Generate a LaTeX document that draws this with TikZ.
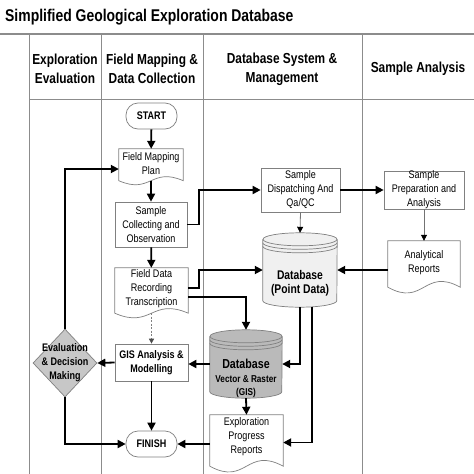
\documentclass[tikz,border=0pt]{standalone}
\usepackage{fontspec}
\setmainfont{Liberation Sans}[FakeStretch=0.82]
\usetikzlibrary{arrows.meta,calc,shapes.geometric}
\pgfdeclarelayer{bg}
\pgfsetlayers{bg,main}
\newcommand\normaltxt{\fontsize{11}{14}\selectfont}
\newcommand\boldtxt{\bfseries\fontsize{11}{14}\selectfont}
\newcommand\headtxt{\bfseries\fontsize{14.5}{19}\selectfont}
\newcommand\docshape[3]{%
  \coordinate (#1-b) at ($(#1.south)+(0,-#2)$);
  \draw[shapeline] (#1.north west) -- (#1.north east) -- (#1.south east |- #1-b)
    .. controls ($(#1-b)+(0,#3)$) and ($(#1-b)+(0,-#3)$) .. (#1.south west |- #1-b) -- cycle;}
\newcommand\cylshape[4]{%
  \fill[#2] ($(#1.north west)+(0,-#4)$) -- ($(#1.south west)+(0,#4)$)
    arc[start angle=180,end angle=360,x radius=#3,y radius=#4]
    -- ($(#1.north east)+(0,-#4)$)
    arc[start angle=0,end angle=180,x radius=#3,y radius=#4] -- cycle;
  \draw[shapeline] ($(#1.north west)+(0,-#4)$) -- ($(#1.south west)+(0,#4)$)
    arc[start angle=180,end angle=360,x radius=#3,y radius=#4]
    -- ($(#1.north east)+(0,-#4)$);
  \draw[shapeline] ($(#1.north)+(0,-#4)$) ellipse[x radius=#3,y radius=#4];
  \draw[shapeline] ($(#1.north west)+(0,-#4-3.5pt)$) arc[start angle=180,end angle=360,x radius=#3,y radius=#4];
  \draw[shapeline] ($(#1.north west)+(0,-#4-7pt)$) arc[start angle=180,end angle=360,x radius=#3,y radius=#4];}
\tikzset{
  lane/.style={draw=black!45, line width=0.8pt},
  shapeline/.style={draw=black!50, line width=0.7pt},
  box/.style={shapeline, rectangle, inner sep=0pt, align=center, font=\normaltxt},
  docnode/.style={rectangle, inner sep=0pt, align=center, font=\normaltxt},
  cylnode/.style={rectangle, inner sep=0pt},
  term/.style={shapeline, rectangle, rounded corners=12pt, minimum width=51pt, minimum height=26pt, inner sep=0pt, font=\boldtxt},
  dia/.style={shapeline, diamond, fill=black!22, minimum width=64pt, minimum height=68pt, inner sep=0pt},
  head/.style={align=center, font=\headtxt, inner sep=0pt},
  arr/.style={-{Triangle[length=8pt,width=8pt]}, line width=1.8pt, black},
  thinarr/.style={-{Triangle[length=6pt,width=6pt,color=black]}, line width=0.8pt, draw=black!55},
  dasharr/.style={-{Triangle[length=5pt,width=5pt,color=black!70]}, line width=0.7pt, draw=black!50, dash pattern=on 2pt off 1.5pt}
}
\begin{document}
\begin{tikzpicture}[x=1pt,y=-1pt]
\useasboundingbox (0,0) rectangle (474,474);
% title and lanes
\node[anchor=west, inner sep=0pt, font=\bfseries\fontsize{17}{20}\selectfont] (title) at (5,17) {Simplified Geological Exploration Database};
\begin{pgfonlayer}{bg}
\fill[white] (0,0) rectangle (474,474);
\draw[lane, line width=1.2pt] (0,34) -- (474,34);
\draw[lane] (29,99) -- (474,99);
\draw[lane] (29,34) -- (29,474);
\draw[lane] (101,34) -- (101,474);
\draw[lane] (203,34) -- (203,474);
\draw[lane] (362,34) -- (362,474);
\end{pgfonlayer}
\node[head] (h1) at (65,69) {Exploration\\Evaluation};
\node[head] (h2) at (152,69) {Field Mapping \&\\Data Collection};
\node[head] (h3) at (282,69) {Database System \&\\Management};
\node[head] (h4) at (418,69) {Sample Analysis};
% nodes
\node[term] (start) at (151.5,116) {START};
\node[docnode, minimum width=64pt, minimum height=29pt] (fmp) at (151,163.5) {Field Mapping\\Plan};
\docshape{fmp}{2.5pt}{14pt}
\node[box, minimum width=72pt, minimum height=45pt] (sco) at (151,224.5) {Sample\\Collecting and\\Observation};
\node[docnode, minimum width=73pt, minimum height=42pt] (fdr) at (151.5,289) {Field Data\\Recording\\Transcription};
\docshape{fdr}{3pt}{16pt}
\node[box, font=\boldtxt, minimum width=73pt, minimum height=37pt] (gis) at (151.5,362.5) {GIS Analysis \&\\Modelling};
\node[term] (finish) at (151.5,444) {FINISH};
\node[dia, label={[font=\boldtxt, align=center]center:Evaluation\\\& Decision\\Making}] (evald) at (65,363) {};
\node[box, minimum width=79pt, minimum height=44pt] (sdq) at (300.5,190) {Sample\\Dispatching And\\Qa/QC};
\node[box, minimum width=80pt, minimum height=38pt] (spa) at (424,190) {Sample\\Preparation and\\Analysis};
\node[docnode, minimum width=72pt, minimum height=43pt] (ar) at (424,262.5) {Analytical\\Reports};
\docshape{ar}{3pt}{20pt}
\node[cylnode, minimum width=74pt, minimum height=74pt,
  label={[font=\bfseries\fontsize{12.6}{14.5}\selectfont, align=center, yshift=-13pt]center:Database\\(Point Data)}] (dbp) at (300,270) {};
\node[cylnode, minimum width=72pt, minimum height=68pt,
  label={[font=\bfseries\fontsize{10}{13.5}\selectfont, align=center, yshift=-14.5pt]center:{\fontsize{13}{13.5}\selectfont Database}\\Vector \& Raster\\(GIS)}] (dbv) at (246,364) {};
\node[docnode, minimum width=73pt, minimum height=44pt] (epr) at (246.5,437) {Exploration\\Progress\\Reports};
\docshape{epr}{7pt}{20pt}
\begin{pgfonlayer}{bg}
\cylshape{dbp}{black!6}{37pt}{6.5pt}
\cylshape{dbv}{black!27}{36pt}{6.5pt}
\end{pgfonlayer}
% connectors
\draw[arr] (start) -- (fmp);
\draw[arr] (fmp-b) -- (sco);
\draw[arr] (sco) -- (fdr);
\draw[dasharr] (fdr-b) -- (gis);
\draw[arr] (gis) -- (finish);
\draw[arr] (gis.west) -- (evald.east);
\draw[arr] (evald.south) |- (finish.west);
\draw[arr] (evald.north) |- ([yshift=-5.5pt]fmp.west);
\draw[arr] (sco.east) -- ++(12,0) |- (sdq.west);
\draw[arr] (sdq.east) -- (spa.west);
\draw[thinarr] (spa.south) -- (ar.north);
\draw[thinarr] (sdq.south) -- (dbp.north);
\draw[arr] (ar.west |- dbp.east) -- (dbp.east);
\draw[arr] ([yshift=1pt]fdr.east) -- ++(11,0) |- (dbp.west);
\draw[arr] ([yshift=-8pt]fdr.east) -| (dbv.north);
\draw[arr] (dbv.west) -- (dbv.west -| gis.east);
\draw[arr] (dbp.south) |- (dbv.east);
\draw[arr] ([xshift=12pt]dbp.south) |- ([yshift=-5.5pt]epr.east);
\draw[arr] (dbv.south) -- (epr.north);
\draw[arr] (finish.east -| epr.west) -- (finish.east);
\end{tikzpicture}
\end{document}
